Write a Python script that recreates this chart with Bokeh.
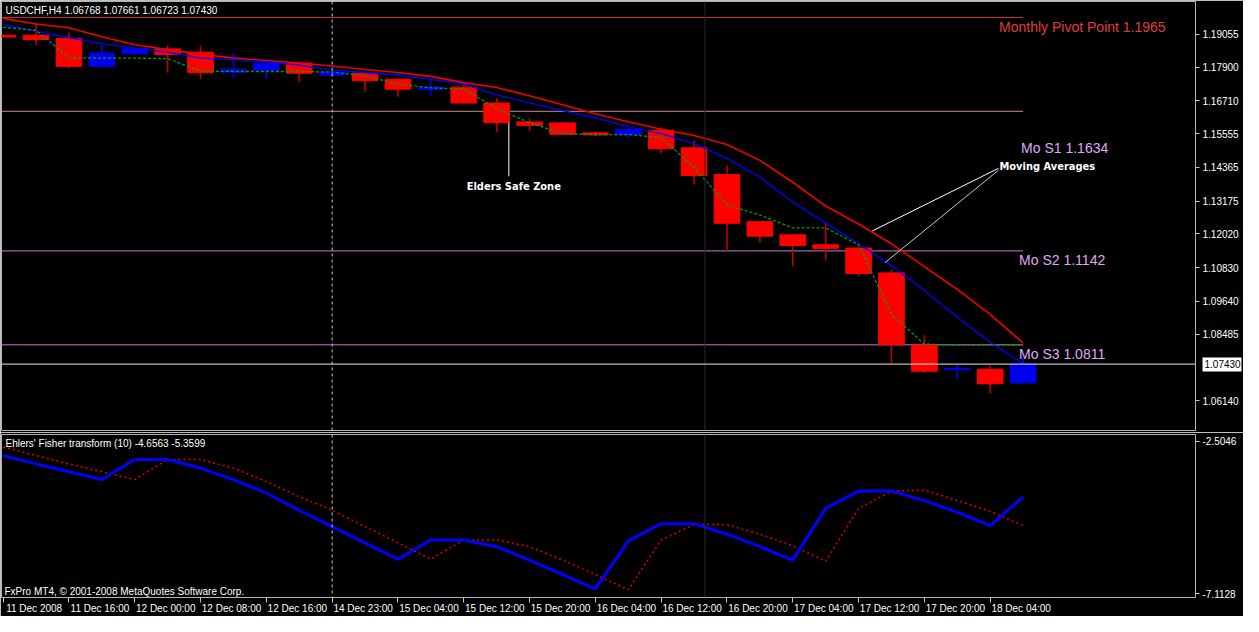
from bokeh.plotting import figure
from bokeh.models import (Range1d, FixedTicker, PrintfTickFormatter, Span, Label, LinearAxis,
                          ColumnDataSource, CustomJSTickFormatter)
from bokeh.layouts import column
from bokeh.embed import file_html
from bokeh.resources import INLINE

# ---------------- data ----------------
symbol = "USDCHF,H4"
opens = [1.19020, 1.19020, 1.18905, 1.17925, 1.18365, 1.18540, 1.18425, 1.17720, 1.17785, 1.18040,
         1.17610, 1.17680, 1.17470, 1.17110, 1.17190, 1.16630, 1.15965, 1.15930, 1.15580, 1.15510,
         1.15670, 1.15055, 1.14110, 1.12450, 1.11985, 1.11635, 1.11520, 1.10645, 1.08100, 1.07235,
         1.07250, 1.06768]
highs = [1.19040, 1.19450, 1.19125, 1.18695, 1.18600, 1.18670, 1.18635, 1.18400, 1.18110, 1.18085,
         1.17750, 1.17700, 1.17490, 1.17435, 1.17375, 1.16805, 1.16090, 1.15950, 1.15635, 1.15775,
         1.15775, 1.15310, 1.14435, 1.12470, 1.12010, 1.12430, 1.11555, 1.10760, 1.08450, 1.07430,
         1.07375, 1.07661]
lows = [1.18950, 1.18670, 1.17855, 1.17875, 1.18330, 1.17700, 1.17490, 1.17525, 1.17490, 1.17375,
        1.17580, 1.17025, 1.16850, 1.16885, 1.16595, 1.15600, 1.15635, 1.15500, 1.15470, 1.15390,
        1.14865, 1.13760, 1.11425, 1.11715, 1.10875, 1.11085, 1.10525, 1.07460, 1.07130, 1.06885,
        1.06410, 1.06723]
closes = [1.18960, 1.18870, 1.17925, 1.18390, 1.18540, 1.18340, 1.17700, 1.17820, 1.18030, 1.17680,
          1.17700, 1.17420, 1.17120, 1.17190, 1.16630, 1.15940, 1.15845, 1.15530, 1.15510, 1.15695,
          1.15020, 1.14075, 1.12395, 1.11940, 1.11610, 1.11510, 1.10620, 1.08110, 1.07180, 1.07280,
          1.06735, 1.07430]
ma_slow = [1.19615, 1.19416, 1.19283, 1.18968, 1.18688, 1.18513, 1.18355, 1.18215, 1.18128, 1.18040,
           1.17935, 1.17813, 1.17708, 1.17570, 1.17350, 1.17180, 1.16885, 1.16570, 1.16255, 1.15975,
           1.15710, 1.15485, 1.15170, 1.14610, 1.13840, 1.13000, 1.12370, 1.11670, 1.10865, 1.10060,
           1.09185, 1.08170]
ma_fast = [1.19405, 1.19160, 1.18933, 1.18723, 1.18565, 1.18425, 1.18215, 1.18163, 1.18093, 1.17970,
           1.17795, 1.17708, 1.17620, 1.17463, 1.17300, 1.16920, 1.16640, 1.16360, 1.16110, 1.15800,
           1.15555, 1.15205, 1.14680, 1.14015, 1.13140, 1.12400, 1.11670, 1.10900, 1.10025, 1.09080,
           1.08205, 1.07435]
safe_zone = [1.19300, 1.19195, 1.18230, 1.18215, 1.18215, 1.18198, 1.17760, 1.17743, 1.17743, 1.17743,
             1.17725, 1.17585, 1.17305, 1.17165, 1.17130, 1.16430, 1.15940, 1.15555, 1.15520, 1.15520,
             1.15415, 1.14365, 1.13035, 1.12685, 1.12230, 1.12230, 1.11635, 1.09185, 1.08135, 1.08100,
             1.08100, 1.08100]
fisher = [-2.9393, -3.1909, -3.4261, -3.6638, -3.0552, -3.0552, -3.3160, -3.6638, -4.0695, -4.5911,
          -5.0838, -5.5764, -6.0691, -5.4895, -5.4895, -5.6924, -6.0981, -6.5328, -6.9675, -5.5185,
          -4.9968, -4.9968, -5.3156, -5.6924, -6.0981, -4.5332, -4.0115, -4.0115, -4.3013, -4.6491,
          -5.0548, -4.1854]
fisher_signal = [-2.6784, -2.9393, -3.1909, -3.4261, -3.6638, -3.0552, -3.0552, -3.3160, -3.7217, -4.1854,
                 -4.5911, -5.0838, -5.5764, -6.0691, -5.4895, -5.4895, -5.6924, -6.0981, -6.5328, -6.9965,
                 -5.4895, -5.0258, -5.0258, -5.3156, -5.6634, -6.1271, -4.5332, -4.0115, -3.9825, -4.3013,
                 -4.6201, -5.0548]
fisher_title_values = [-4.6563, -5.3599]
fisher_ticks = [-2.5046, -7.1128]
price_ticks = [1.19055, 1.17900, 1.16710, 1.15555, 1.14365, 1.13175, 1.12020, 1.10830,
               1.09640, 1.08485, 1.06140]
x_tick_labels = ["11 Dec 2008", "11 Dec 16:00", "12 Dec 00:00", "12 Dec 08:00", "12 Dec 16:00",
                 "14 Dec 23:00", "15 Dec 04:00", "15 Dec 12:00", "15 Dec 20:00", "16 Dec 04:00",
                 "16 Dec 12:00", "16 Dec 20:00", "17 Dec 04:00", "17 Dec 12:00", "17 Dec 20:00",
                 "18 Dec 04:00"]
pivot_labels = ["Monthly Pivot Point  1.1965", "Mo S1 1.1634", "Mo S2  1.1142", "Mo S3  1.0811"]
pivot_levels = [1.1965, 1.1634, 1.1142, 1.0811]
week_separator = [10]
faint_marker = [21.33]

# ---------------- layout / style ----------------
W = 1243
BORDER_L, BORDER_R = 1, 48
FRAME_W = W - BORDER_L - BORDER_R
FONT = "Liberation Sans"
X0, X1 = -0.05, 36.24
PY0, PY1 = 1.0509, 1.2021
FY0, FY1 = -7.2287, -2.3017
PX_PER_UNIT = FRAME_W / (X1 - X0)

idx = list(range(len(opens)))
x_tick_pos = idx[::2][:len(x_tick_labels)]
label_shift = 31 / PX_PER_UNIT
x_label_pos = [t + label_shift for t in x_tick_pos]


def style(p):
    p.background_fill_color = "black"
    p.border_fill_color = "black"
    p.outline_line_color = "#b4b4b4"
    p.outline_line_width = 1
    p.grid.visible = False
    for ax in p.yaxis:
        ax.axis_line_color = None
        ax.major_tick_line_color = "#c8c8c8"
        ax.major_tick_out = 4
        ax.major_tick_in = 0
        ax.minor_tick_line_color = None
        ax.major_label_text_color = "#ffffff"
        ax.major_label_text_font = FONT
        ax.major_label_text_font_size = "10px"
        ax.major_label_standoff = 3


p1 = figure(width=W, height=432, x_range=Range1d(X0, X1), y_range=Range1d(PY0, PY1),
            x_axis_location=None, y_axis_location="right", toolbar_location=None,
            output_backend="svg", min_border_left=BORDER_L, min_border_right=BORDER_R,
            min_border_top=1, min_border_bottom=2)
style(p1)
p1.yaxis.ticker = FixedTicker(ticks=price_ticks)
p1.yaxis.formatter = PrintfTickFormatter(format="%.5f")

# current price box, drawn by a second price-scale axis over the label column
pb = LinearAxis(ticker=FixedTicker(ticks=[closes[-1]]), formatter=PrintfTickFormatter(format="%.5f"))
pb.axis_line_color = None
pb.major_tick_in = 39
pb.major_tick_out = 0
pb.major_tick_line_color = "#ffffff"
pb.major_tick_line_width = 14
pb.major_tick_line_cap = "butt"
pb.minor_tick_line_color = None
pb.major_label_text_color = "#000000"
pb.major_label_text_font = FONT
pb.major_label_text_font_size = "10px"
pb.major_label_standoff = -37
p1.add_layout(pb, "right")

# separators
for loc in week_separator:
    p1.add_layout(Span(location=loc, dimension="height", line_color="#c8c8c8",
                       line_dash="3 3", line_width=1))
for loc in faint_marker:
    p1.add_layout(Span(location=loc, dimension="height", line_color="#2a2a2a", line_width=1))

# pivot lines
pivot_colors = ["#c83c3c", "#c88c8c", "#c878c8", "#c878c8"]
p1.segment(x0=[X0] * len(pivot_levels), x1=[idx[-1]] * len(pivot_levels),
           y0=pivot_levels, y1=pivot_levels, line_color=pivot_colors, line_width=1)

# current price line
p1.add_layout(Span(location=closes[-1], dimension="width", line_color="#e8e8e8", line_width=1))

# candles
bull = [c >= o for o, c in zip(opens, closes)]
src = ColumnDataSource(dict(
    x=idx, high=highs, low=lows,
    top=[max(o, c) for o, c in zip(opens, closes)],
    bottom=[min(o, c) for o, c in zip(opens, closes)],
    body=["#0000f0" if b else "#ff0000" for b in bull],
    wick=["#0000ff" if b else "#c00000" for b in bull],
))
p1.segment(x0="x", x1="x", y0="low", y1="high", line_color="wick", line_width=1.6, source=src)
p1.vbar(x="x", width=0.78, top="top", bottom="bottom", fill_color="body",
        line_color="body", line_width=1, source=src)

# indicator lines
p1.line(idx, ma_slow, line_color="#f00000", line_width=1.6)
p1.line(idx, ma_fast, line_color="#0000ff", line_width=1.3)
p1.line(idx, safe_zone, line_color="#00a000", line_width=1.3, line_dash="3 2")

# titles / labels
o, h, l, c = opens[-1], highs[-1], lows[-1], closes[-1]
p1.add_layout(Label(x=X0, y=PY1, x_offset=4, y_offset=-3, text_baseline="top",
                    text=f"{symbol}  {o:.5f} {h:.5f} {l:.5f} {c:.5f}",
                    text_color="#ffffff", text_font=FONT, text_font_size="10px"))

pivot_text_colors = ["#e03c3c", "#e0a8f4", "#e0a8f4", "#e0a8f4"]
pivot_dx = [-24, -2, -4, -4]
pivot_dy = [-10, -37, -9, -9]
for txt, lvl, col, dx, dy in zip(pivot_labels, pivot_levels, pivot_text_colors, pivot_dx, pivot_dy):
    p1.add_layout(Label(x=idx[-1], y=lvl, x_offset=dx, y_offset=dy, text=txt,
                        text_baseline="middle", text_color=col, text_font=FONT,
                        text_font_size="14px"))

# annotation texts
ANN_FONT = "'Liberation Sans Narrow', 'DejaVu Sans Condensed', 'Roboto Condensed', 'Liberation Sans'"
p1.segment(x0=[15.37], x1=[15.37], y0=[1.15940], y1=[1.14050], line_color="#ffffff", line_width=1)
p1.add_layout(Label(x=15.52, y=1.13910, text="Elders Safe Zone", text_align="center",
                    text_baseline="top", text_color="#ffffff", text_font=ANN_FONT,
                    text_font_style="bold", text_font_size="11px"))
p1.segment(x0=[30.25, 30.25], x1=[26.42, 26.80], y0=[1.14330, 1.14260], y1=[1.12125, 1.11005],
           line_color=["#ffffff", "#c8c8c8"], line_width=1)
p1.add_layout(Label(x=30.28, y=1.14400, text="Moving Averages", text_align="left",
                    text_baseline="middle", text_color="#ffffff", text_font=ANN_FONT,
                    text_font_style="bold", text_font_size="11px"))

# ---------------- lower panel ----------------
p2 = figure(width=W, height=184, x_range=p1.x_range, y_range=Range1d(FY0, FY1),
            x_axis_location="below", y_axis_location="right", toolbar_location=None,
            output_backend="svg", min_border_left=BORDER_L, min_border_right=BORDER_R,
            min_border_top=2, min_border_bottom=0)
style(p2)
p2.yaxis.ticker = FixedTicker(ticks=fisher_ticks)
p2.yaxis.formatter = PrintfTickFormatter(format="%.4f")

# tick marks at the bar positions
xa = p2.xaxis[0]
xa.ticker = FixedTicker(ticks=x_tick_pos)
xa.formatter = CustomJSTickFormatter(code="return '';")
xa.axis_line_color = None
xa.major_tick_line_color = "#c8c8c8"
xa.major_tick_out = 5
xa.major_tick_in = 0
xa.minor_tick_line_color = None
xa.major_label_text_font_size = "1px"
xa.major_label_standoff = 0

# time labels, starting just right of each tick mark
xl = LinearAxis(ticker=FixedTicker(ticks=x_label_pos),
                formatter=CustomJSTickFormatter(
                    args=dict(labels=x_tick_labels, pos=x_label_pos),
                    code="for (let i = 0; i < pos.length; i++) { if (Math.abs(pos[i] - tick) < 1e-6) return labels[i]; } return '';"))
xl.axis_line_color = None
xl.major_tick_line_color = None
xl.major_tick_out = 0
xl.major_tick_in = 0
xl.minor_tick_line_color = None
xl.major_label_text_color = "#ffffff"
xl.major_label_text_font = FONT
xl.major_label_text_font_size = "10px"
xl.major_label_standoff = 0
p2.add_layout(xl, "below")

for loc in week_separator:
    p2.add_layout(Span(location=loc, dimension="height", line_color="#c8c8c8",
                       line_dash="3 3", line_width=1))
for loc in faint_marker:
    p2.add_layout(Span(location=loc, dimension="height", line_color="#2a2a2a", line_width=1))

p2.line(idx, fisher_signal, line_color="#e00000", line_width=1.5, line_dash="2 3")
p2.line(idx, fisher, line_color="#0000ff", line_width=3)

p2.add_layout(Label(x=X0, y=FY1, x_offset=4, y_offset=-3, text_baseline="top",
                    text=f"Ehlers' Fisher transform (10) {fisher_title_values[0]:.4f} {fisher_title_values[1]:.4f}",
                    text_color="#ffffff", text_font=FONT, text_font_size="10px"))
p2.add_layout(Label(x=X0, y=FY0, x_offset=3, y_offset=1, text_baseline="bottom",
                    text="FxPro MT4, \u00a9 2001-2008 MetaQuotes Software Corp.",
                    text_color="#ffffff", text_font=FONT, text_font_size="10px"))

layout = column(p1, p2, spacing=0)
open("out.html", "w").write(file_html(layout, INLINE))
